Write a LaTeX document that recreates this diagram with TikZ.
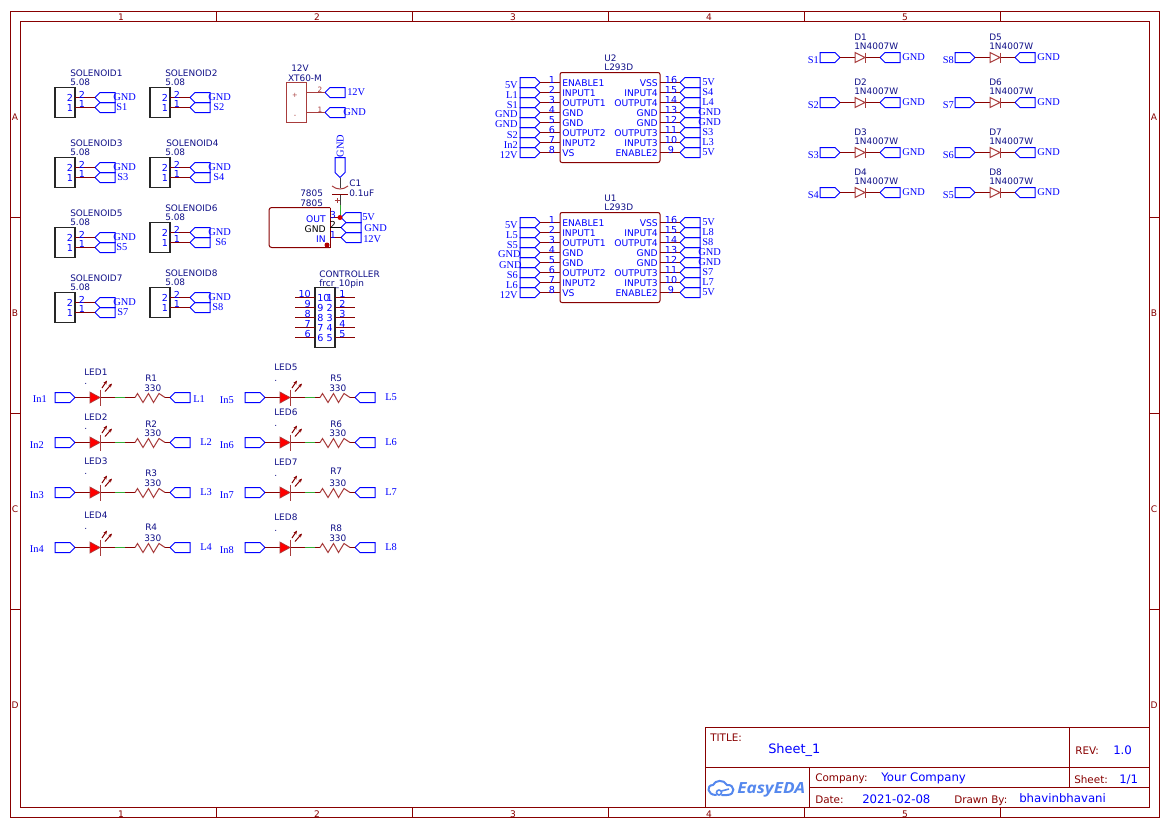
\documentclass[tikz,border=0pt]{standalone}
\usepackage{fontspec}
\setmainfont{DejaVu Sans}
\newfontfamily\netfont{Liberation Serif}
\newfontfamily\logofont{Open Sans}
\usetikzlibrary{arrows.meta}
\definecolor{framered}{HTML}{880000}
\definecolor{softred}{HTML}{A83C3C}
\definecolor{refnavy}{HTML}{101088}
\definecolor{netblue}{HTML}{0000FF}
\definecolor{logoblue}{HTML}{5588EE}
\definecolor{wiregreen}{HTML}{33AA33}
\tikzstyle{wire} = [draw=framered, line width=.75pt]
\tikzstyle{softwire} = [draw=softred, line width=.75pt]
\tikzstyle{netflag} = [draw=netblue, line width=.75pt, line join=miter]
\tikzstyle{partbox} = [draw=black!85, line width=1pt, rectangle, inner sep=0pt, outer sep=0pt]
\tikzstyle{icbox} = [draw=framered, line width=.75pt, rectangle, rounded corners=1.5pt, inner sep=0pt, outer sep=0pt,
    minimum width=75pt, minimum height=67.5pt, anchor=north west]
\tikzstyle{reftext} = [inner sep=0pt, anchor=mid west, yshift=-.6pt, text=refnavy, font=\fontsize{6.7}{8}\selectfont]
\tikzstyle{pintext} = [inner sep=0pt, anchor=mid west, yshift=-.6pt, text=netblue, font=\fontsize{6.9}{8}\selectfont]
\tikzstyle{pinnum} = [inner sep=0pt, anchor=mid, yshift=-.6pt, text=netblue, font=\fontsize{7.2}{8}\selectfont]
\tikzstyle{nettext} = [inner sep=0pt, anchor=mid west, yshift=-.6pt, text=netblue, font=\netfont\fontsize{7.8}{9}\selectfont]
\tikzstyle{titlered} = [inner sep=0pt, anchor=mid west, yshift=-.6pt, text=framered, font=\fontsize{7.8}{9}\selectfont]
\tikzstyle{titleblue} = [inner sep=0pt, anchor=mid west, yshift=-.6pt, text=netblue, font=\fontsize{8.8}{10}\selectfont]
\newcommand{\netflagat}[4]{% name, tip x, y, direction
    \coordinate (#1) at (#2,#3);
    \draw[netflag] (#1) -- ++({#4*5},-5) -- ++({#4*15},0) -- ++(0,10) -- ++({#4*(-15)},0) -- cycle;
}
\newcommand{\icbody}[2]{% name, top y
    \node[icbox] (#1) at (560,#2) {};
    \foreach \row/\la/\lb/\ra/\rb in {0/1/ENABLE1/16/VSS, 1/2/INPUT1/15/INPUT4, 2/3/OUTPUT1/14/OUTPUT4, 3/4/GND/13/GND,
        4/5/GND/12/GND, 5/6/OUTPUT2/11/OUTPUT3, 6/7/INPUT2/10/INPUT3, 7/8/VS/9/ENABLE2} {
        \netflagat{#1l\la}{540}{#2+10+10*\row}{-1}
        \netflagat{#1r\ra}{680}{#2+10+10*\row}{1}
        \coordinate (#1lp\la) at (560,{#2+10+10*\row});
        \coordinate (#1rp\ra) at (660,{#2+10+10*\row});
        \draw[wire] (#1lp\la) -- (#1l\la);
        \draw[wire] (#1rp\ra) -- (#1r\ra);
        \node[pinnum] (#1ln\la) at (552,{#2+6.5+10*\row}) {\la};
        \node[pinnum] (#1rn\ra) at (671,{#2+6.5+10*\row}) {\ra};
        \node[pintext] (#1lt\la) at (562,{#2+10+10*\row}) {\lb};
        \node[pintext, anchor=mid east] (#1rt\ra) at (658,{#2+10+10*\row}) {\rb};
    }
}
\begin{document}
\begin{tikzpicture}[x=.75pt, y=-.75pt]
    \useasboundingbox (0,0) rectangle (1169,829);
    \fill[white] (0,0) rectangle (1169,829);
    \draw[wire] (10,11.5) rectangle (1159,817.5);
    \draw[wire] (20,21.5) rectangle (1149,807.5);
    \foreach \xx in {216,412,608,804,1000} {
        \draw[wire] (\xx,11.5) -- (\xx,21.5);
        \draw[wire] (\xx,807.5) -- (\xx,817.5);
    }
    \foreach \yy in {217.5,413.5,609.5} {
        \draw[wire] (10,\yy) -- (20,\yy);
        \draw[wire] (1149,\yy) -- (1159,\yy);
    }
    \foreach \n/\xx in {1/121,2/317,3/513,4/709,5/905} {
        \node[titlered, anchor=mid, font=\fontsize{6.8}{8}\selectfont] (coltop\n) at (\xx,16.5) {\n};
        \node[titlered, anchor=mid, font=\fontsize{6.8}{8}\selectfont] (colbot\n) at (\xx,813) {\n};
    }
    \foreach \n/\yy in {A/116,B/312,C/508,D/704} {
        \node[titlered, anchor=mid, font=\fontsize{6.8}{8}\selectfont] (rowl\n) at (15,\yy) {\n};
        \node[titlered, anchor=mid, font=\fontsize{6.8}{8}\selectfont] (rowr\n) at (1154,\yy) {\n};
    }
    \foreach \n/\bx/\by/\tx/\sx/\net in {1/55/87.5/70/116/S1, 2/150/87.5/165/213/S2, 3/55/157.5/70/117/S3, 4/150/157.5/166/213/S4,
        5/55/227.5/70/116/S5, 6/150/222.5/165/215/S6, 7/55/292.5/70/117/S7, 8/150/287.5/165/212/S8} {
        \node[partbox, minimum width=15pt, minimum height=22.5pt, anchor=north west] (sol\n) at (\bx,\by) {};
        \netflagat{sol\n a}{\bx+40}{\by+10}{1}
        \netflagat{sol\n b}{\bx+40}{\by+20}{1}
        \coordinate (sol\n pa) at ({\bx+20},{\by+10});
        \coordinate (sol\n pb) at ({\bx+20},{\by+20});
        \draw[wire] (sol\n pa) -- (sol\n a);
        \draw[wire] (sol\n pb) -- (sol\n b);
        \node[reftext] (sol\n name) at (\tx,{\by-15}) {SOLENOID\n};
        \node[reftext] (sol\n val) at ({\bx+15},{\by-6}) {5.08};
        \node[pinnum] (sol\n ia) at ({\bx+15},{\by+10}) {2};
        \node[pinnum] (sol\n ib) at ({\bx+15},{\by+20}) {1};
        \node[pinnum] (sol\n oa) at ({\bx+27},{\by+6.5}) {2};
        \node[pinnum] (sol\n ob) at ({\bx+27},{\by+16}) {1};
        \node[nettext] (sol\n g) at ({\bx+58},{\by+9}) {GND};
        \node[nettext] (sol\n s) at (\sx,{\by+19}) {\net};
    }
    \node[draw=softred, line width=.75pt, rectangle, inner sep=0pt, outer sep=0pt, minimum width=15pt, minimum height=30pt, anchor=north west] (xt) at (286,82.5) {};
    \node[reftext, anchor=mid] (xtname) at (300,67.5) {12V};
    \node[reftext, anchor=mid] (xtval) at (305,77) {XT60-M};
    \node[pinnum, text=softred, font=\fontsize{5}{6}\selectfont] (xtplus) at (295,93) {+};
    \node[pinnum, text=softred, font=\fontsize{5}{6}\selectfont] (xtminus) at (295,113) {-};
    \node[pinnum, text=softred, font=\fontsize{5.5}{6}\selectfont] (xtna) at (320,88.5) {2};
    \node[pinnum, text=softred, font=\fontsize{5.5}{6}\selectfont] (xtnb) at (320,108.5) {1};
    \netflagat{xta}{325}{92.5}{1}
    \netflagat{xtb}{325}{112.5}{1}
    \coordinate (xtpa) at (306,92.5);
    \coordinate (xtpb) at (306,112.5);
    \draw[softwire] (xtpa) -- (xta);
    \draw[softwire] (xtpb) -- (xtb);
    \node[nettext] (xtnet) at (347,91) {12V};
    \node[nettext] (xtgnd) at (343,111) {GND};
    \coordinate (capgnd) at (340,177.5);
    \draw[netflag] (capgnd) -- ++(-5,-5) -- ++(0,-15) -- ++(10,0) -- ++(0,15) -- cycle;
    \node[nettext, anchor=mid, rotate=90] (capnet) at (340,145) {GND};
    \coordinate (captop) at (340,188);
    \coordinate (capbot) at (340,194.5);
    \coordinate (regout) at (340,217.5);
    \draw[draw=black!75, line width=.75pt] (capgnd) -- (captop);
    \draw[softwire] (332,186) .. controls (337,190) and (343,190) .. (348,186);
    \draw[wire] (332,194.5) -- (348,194.5);
    \draw[softwire] (337,198) -- (337,203) (334.5,200.5) -- (339.5,200.5);
    \draw[draw=black!75, line width=.75pt] (capbot) -- (340,205);
    \draw[draw=wiregreen, line width=.75pt] (340,205) -- (regout);
    \node[reftext] (capname) at (349,182) {C1};
    \node[reftext] (capval) at (349,192.5) {0.1uF};
    \node[reftext] (regname) at (300,192) {7805};
    \node[reftext] (regval) at (300,202) {7805};
    \draw[wire, rounded corners=2pt] (330,207.5) -- (269,207.5) -- (269,247.5) -- (330,247.5);
    \draw[wire] (330,207.5) -- (330,247.5);
    \node[pintext, anchor=mid east] (regt3) at (326,218) {OUT};
    \node[pintext, anchor=mid east, text=black] (regt2) at (326,228) {GND};
    \node[pintext, anchor=mid east] (regt1) at (326,238) {IN};
    \netflagat{rega}{341}{217.5}{1}
    \netflagat{regb}{341}{227.5}{1}
    \netflagat{regc}{341}{237.5}{1}
    \coordinate (regpa) at (330,217.5);
    \coordinate (regpb) at (330,227.5);
    \coordinate (regpc) at (330,237.5);
    \draw[wire] (regpa) -- (rega);
    \draw[draw=black, line width=.75pt] (regpb) -- (regb);
    \draw[wire] (regpc) -- (regc);
    \fill[red!80!black] (regout) circle (2.5);
    \fill[red!70!black] (327,245) circle (2.5);
    \node[pinnum] (regn3) at (333,214) {3};
    \node[pinnum, text=black] (regn2) at (333,224) {2};
    \node[pinnum] (regn1) at (333,234) {1};
    \node[nettext] (regs1) at (362,216) {5V};
    \node[nettext] (regs2) at (364,227) {GND};
    \node[nettext] (regs3) at (363,238) {12V};
    \node[partbox, minimum width=15pt, minimum height=45pt, anchor=north west] (ctrl) at (315,287.5) {};
    \node[reftext] (ctrlname) at (319,273) {CONTROLLER};
    \node[reftext] (ctrlval) at (319,282) {frcr\_10pin};
    \foreach \row/\la/\lb in {0/10/1, 1/9/2, 2/8/3, 3/7/4, 4/6/5} {
        \coordinate (ctrll\la) at (295,{297.5+10*\row});
        \coordinate (ctrlr\lb) at (355,{297.5+10*\row});
        \coordinate (ctrlpl\la) at (315,{297.5+10*\row});
        \coordinate (ctrlpr\lb) at (335,{297.5+10*\row});
        \draw[wire] (ctrlpl\la) -- (ctrll\la);
        \draw[wire] (ctrlpr\lb) -- (ctrlr\lb);
        \node[pinnum, anchor=mid east] (ctrlol\la) at (311,{293.5+10*\row}) {\la};
        \node[pinnum, anchor=mid west] (ctrlor\lb) at (339,{293.5+10*\row}) {\lb};
        \node[pinnum, anchor=mid west] (ctrlil\la) at (317,{297.5+10*\row}) {\la};
        \node[pinnum, anchor=mid east] (ctrlir\lb) at (333,{297.5+10*\row}) {\lb};
    }
    \icbody{U2}{72.5}
    \node[reftext] (U2name) at (604,57.5) {U2};
    \node[reftext] (U2val) at (604,66) {L293D};
    \foreach \n/\nx/\ny/\net in {a/518/84/5V, b/518/94/L1, c/518/104/S1, d/518/113/GND, e/518/123/GND, f/518/134/S2, g/518/144/In2, h/518/154/12V} {
        \node[nettext, anchor=mid east] (U2net\n) at (\nx,\ny) {\net};
    }
    \foreach \n/\nx/\ny/\net in {a/702/81/5V, b/702/91/S4, c/702/101/L4, d/698/111/GND, e/698/121/GND, f/702/131/S3, g/702/141/L3, h/702/151/5V} {
        \node[nettext] (U2out\n) at (\nx,\ny) {\net};
    }
    \icbody{U1}{212.5}
    \node[reftext] (U1name) at (604,197) {U1};
    \node[reftext] (U1val) at (604,206) {L293D};
    \foreach \n/\nx/\ny/\net in {a/518/224/5V, b/518/234/L5, c/518/244/S5, d/521/253/GND, e/522/264/GND, f/518/274/S6, g/518/284/L6, h/518/294/12V} {
        \node[nettext, anchor=mid east] (U1net\n) at (\nx,\ny) {\net};
    }
    \foreach \n/\nx/\ny/\net in {a/702/221/5V, b/702/231/L8, c/702/241/S8, d/698/251/GND, e/698/261/GND, f/702/271/S7, g/702/281/L7, h/702/291/5V} {
        \node[nettext] (U1out\n) at (\nx,\ny) {\net};
    }
    \foreach \n/\bx/\yy/\net in {1/820/57.5/S1, 2/820/102.5/S2, 3/820/152.5/S3, 4/820/192.5/S4, 5/955/57.5/S8, 6/955/102.5/S7, 7/955/152.5/S6, 8/955/192.5/S5} {
        \netflagat{da\n}{\bx+20}{\yy}{-1}
        \netflagat{dc\n}{\bx+60}{\yy}{1}
        \coordinate (dia\n) at ({\bx+35},\yy);
        \coordinate (dik\n) at ({\bx+45},\yy);
        \draw[wire] (da\n) -- (dia\n);
        \draw[wire] (dik\n) -- (dc\n);
        \draw[softwire] (dia\n) -- ++(0,-5) -- ++(10,5) -- ++(-10,5) -- cycle;
        \draw[softwire] ({\bx+45},\yy-5) -- ({\bx+45},\yy+5);
        \node[reftext] (dname\n) at ({\bx+34},\yy-21) {D\n};
        \node[reftext] (dval\n) at ({\bx+34},\yy-12) {1N4007W};
        \node[nettext, anchor=mid east] (dnet\n) at ({\bx-1},\yy+1.5) {\net};
        \node[nettext] (dgnd\n) at ({\bx+82},\yy-1.5) {GND};
    }
    \foreach \n/\bx/\yy/\rx/\lx/\ix/\ly/\iy/\ty/\dy/\ry/\vy in {
        1/55/397.5/135/193/47/398/398/371/380/377/387,
        2/55/442.5/135/200/44/441/444/416/425/423/432,
        3/55/492.5/135/200/44/491/494/460/470/472/482,
        4/55/547.5/135/200/44/546/548/514/525/526/537,
        5/245/397.5/320/385/234/396/399/366/377/377/387,
        6/245/442.5/320/385/234/441/444/411/422/423/432,
        7/245/492.5/320/385/234/491/494/461/472/470/482,
        8/245/547.5/320/385/234/546/549/516/527/527/537} {
        \netflagat{la\n}{\bx+20}{\yy}{-1}
        \netflagat{lb\n}{\rx+35}{\yy}{1}
        \coordinate (lia\n) at ({\bx+35},\yy);
        \coordinate (lik\n) at ({\bx+45},\yy);
        \coordinate (lig\n) at ({\bx+60},\yy);
        \coordinate (rsa\n) at (\rx,\yy);
        \coordinate (rsb\n) at ({\rx+30},\yy);
        \draw[wire] (la\n) -- (lia\n);
        \draw[wire] (lik\n) -- (lig\n);
        \draw[draw=wiregreen, line width=.75pt] (lig\n) -- ++(10,0);
        \draw[wire] ({\bx+70},\yy) -- (rsa\n);
        \draw[wire] (rsb\n) -- (lb\n);
        \fill[red, draw=softred, line width=.5pt] (lia\n) -- ++(0,-5.5) -- ++(10,5.5) -- ++(-10,5.5) -- cycle;
        \draw[softwire] ({\bx+45},\yy-8) -- ({\bx+45},\yy+8);
        \draw[wire, -{Stealth[length=3pt,width=2.5pt]}] ({\bx+47},\yy-9.5) -- ({\bx+52},\yy-17);
        \draw[wire, -{Stealth[length=3pt,width=2.5pt]}] ({\bx+50},\yy-6) -- ({\bx+57},\yy-14);
        \draw[softwire] (rsa\n) -- ++(2.5,-4) -- ++(5.5,9) -- ++(5.5,-9) -- ++(5,9) -- ++(5.5,-9) -- (rsb\n);
        \node[reftext] (lname\n) at ({\bx+29},\ty) {LED\n};
        \node[reftext] (ldot\n) at ({\bx+29},\dy) {.};
        \node[reftext] (rname\n) at ({\rx+10},\ry) {R\n};
        \node[reftext] (rval\n) at ({\rx+9},\vy) {330};
        \node[nettext] (lnet\n) at (\lx,\ly) {L\n};
        \node[nettext, anchor=mid east] (inet\n) at (\ix,\iy) {In\n};
    }
    \draw[wire] (705,727.5) rectangle (1149,807.5);
    \coordinate (tba) at (705,767.5);
    \coordinate (tbb) at (1149,767.5);
    \coordinate (tbc) at (809,787.5);
    \coordinate (tbd) at (1149,787.5);
    \draw[wire] (tba) -- (tbb);
    \draw[wire] (tbc) -- (tbd);
    \draw[wire] (1069,727.5) -- (1069,787.5);
    \draw[wire] (809,767.5) -- (809,807.5);
    \node[titlered] (tbtitle) at (710,737) {TITLE:};
    \node[titleblue, font=\fontsize{9.7}{11}\selectfont] (tbsheet) at (768,749) {Sheet\_1};
    \node[titlered] (tbrev) at (1075,750) {REV:};
    \node[titleblue] (tbrevv) at (1113,750) {1.0};
    \node[titlered] (tbcomp) at (815,777) {Company:};
    \node[titleblue] (tbcompv) at (881,777) {Your Company};
    \node[titlered] (tbsh) at (1074,779) {Sheet:};
    \node[titleblue] (tbshv) at (1119,779) {1/1};
    \node[titlered] (tbdate) at (815,799) {Date:};
    \node[titleblue] (tbdatev) at (862,799) {2021-02-08};
    \node[titlered] (tbdraw) at (954,799) {Drawn By:};
    \node[titleblue] (tbdrawv) at (1019,798) {bhavinbhavani};
    \draw[draw=logoblue, line width=1.5pt, line cap=round, line join=round]
        (716,795) .. controls (707,795) and (706,785) .. (713,785)
        .. controls (715,780) and (724,779) .. (727,785)
        .. controls (735,784) and (736,795) .. (727,795) -- (722,795);
    \draw[draw=logoblue, line width=1.2pt] (719,792.5) circle (2.5);
    \draw[draw=logoblue, line width=1.2pt] (721.5,791) -- (729,789);
    \node[inner sep=0pt, anchor=mid west, text=logoblue, xscale=1.12, font=\logofont\bfseries\itshape\fontsize{11.5}{13}\selectfont] (logotext) at (737,790) {EasyEDA};
\end{tikzpicture}
\end{document}
